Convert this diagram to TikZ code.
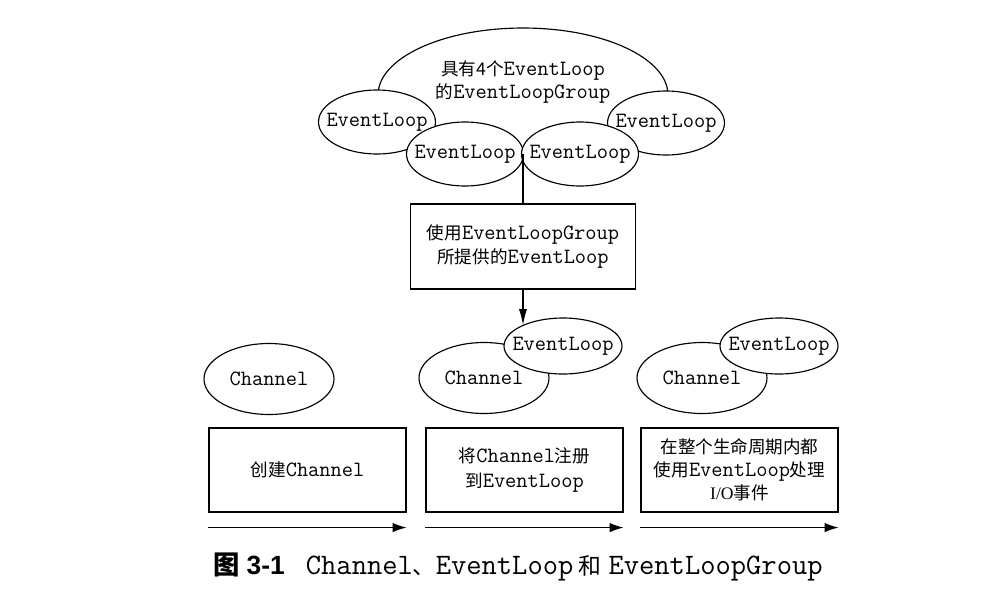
\documentclass[tikz,border=0pt]{standalone}
\usepackage{fontspec}
\setmainfont{Noto Sans CJK SC}
\newfontfamily\capsans{Liberation Sans}
\newfontfamily\timesfont{Liberation Serif}
\usetikzlibrary{shapes.geometric,arrows.meta}
\newcommand{\code}[1]{{\fontsize{12.4}{14}\selectfont\ttfamily #1}}

\begin{document}
\begin{tikzpicture}
[x=0.02cm,y=-0.02cm,
  font=\fontsize{10}{13}\selectfont,
  groupDecorate/.style={shape=ellipse,draw,line width=0.65pt,minimum width=5.8cm,minimum height=2.68cm,inner sep=0pt},%
  loopDecorate/.style={shape=ellipse,draw,line width=0.65pt,fill=white,minimum width=2.34cm,minimum height=1.28cm,inner sep=0pt,label={center:\code{EventLoop}}},%
  chanDecorate/.style={shape=ellipse,draw,line width=0.65pt,fill=white,minimum width=2.6cm,minimum height=1.42cm,inner sep=0pt,label={center:\code{Channel}}},%
  evlDecorate/.style={shape=ellipse,draw,line width=0.65pt,fill=white,minimum width=2.36cm,minimum height=1.12cm,inner sep=0pt,label={center:\code{EventLoop}}},%
  boxDecorate/.style={shape=rectangle,draw,line width=0.65pt,minimum width=3.94cm,minimum height=1.68cm,align=center,inner sep=0pt},%
  lineDecorate/.style={-,line width=0.65pt},%
  arrowDecorate/.style={-{Latex[length=2.8mm,width=1.9mm]},line width=0.65pt},%
  downDecorate/.style={-{Latex[length=3.2mm,width=1.6mm]},line width=0.65pt}]
\useasboundingbox (0,0) rectangle (1008,609);
%% the group with its four loops
\node (group) at (523,95) [groupDecorate] {};
\node (groupText) at (523,82) [align=center] {具有4个\code{EventLoop}\\的\code{EventLoopGroup}};
\foreach \nodename/\x/\y in {loopA/377/122, loopD/666/123, loopB/465/154, loopC/580/154}
{
  \node (\nodename) at (\x,\y) [loopDecorate] {};
}
%% the box in the middle
\node (useBox) at (523,246.5) [boxDecorate,minimum width=4.5cm,minimum height=1.7cm]
  {使用\code{EventLoopGroup}\\[1pt]所提供的\code{EventLoop}};
%% channels and their loops
\foreach \nodename/\x/\y in {chanA/269/379, chanB/484/378, chanC/702/378}
{
  \node (\nodename) at (\x,\y) [chanDecorate] {};
}
\foreach \nodename/\x/\y in {evlB/563/346, evlC/779/346}
{
  \node (\nodename) at (\x,\y) [evlDecorate] {};
}
%% the three steps
\node (stepA) at (307.5,470) [boxDecorate] {创建\code{Channel}};
\node (stepB) at (524.5,470) [boxDecorate] {将\code{Channel}注册\\[1pt]到\code{EventLoop}};
\node (stepC) at (739.5,470) [boxDecorate] {在整个生命周期内都\\使用\code{EventLoop}处理\\{\timesfont I/O}事件};
%% edges or lines
\draw[lineDecorate] (useBox.north |- loopB.east) -- (useBox.north);
\draw[downDecorate] (useBox.south) -- (useBox.south |- evlB.153);
\foreach \stepnode in {stepA, stepB, stepC}
{
  \draw[arrowDecorate] ([yshift=-0.3cm]\stepnode.south west) -- ([yshift=-0.3cm]\stepnode.south east);
}
%% caption
\node (caption) at (213,567) [anchor=west,inner sep=0pt]
  {\fontsize{15}{18}\selectfont{\bfseries 图}\hspace{4pt}{\capsans\bfseries 3-1}\hspace{12pt}%
   {\fontsize{16.9}{18}\selectfont\ttfamily Channel}{\fontsize{13}{18}\selectfont 、}%
   {\fontsize{16.9}{18}\selectfont\ttfamily EventLoop}\hspace{3pt}{\fontsize{13}{18}\selectfont 和}\hspace{4pt}%
   {\fontsize{16.9}{18}\selectfont\ttfamily EventLoopGroup}};
\end{tikzpicture}
\end{document}
